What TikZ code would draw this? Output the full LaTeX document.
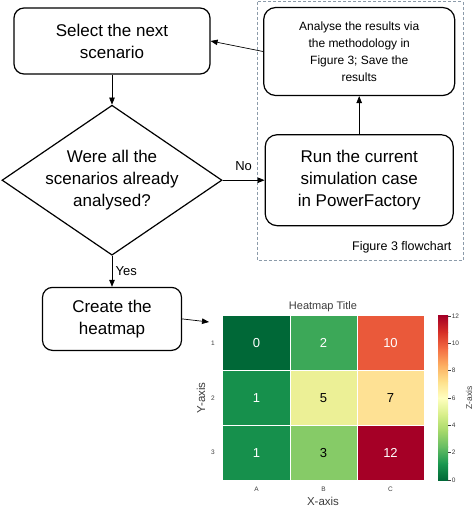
\documentclass[tikz,border=0pt]{standalone}
\usepackage{fontspec}
\setmainfont{Liberation Sans}
\usetikzlibrary{arrows.meta,positioning,shapes.geometric}
\definecolor{framegray}{RGB}{140,155,170}
\definecolor{tickgray}{RGB}{60,60,60}
% reversed RdYlGn stops for the colour bar
\definecolor{rg0}{RGB}{0,104,55}
\definecolor{rg1}{RGB}{26,152,80}
\definecolor{rg2}{RGB}{102,189,99}
\definecolor{rg3}{RGB}{166,217,106}
\definecolor{rg4}{RGB}{217,239,139}
\definecolor{rg5}{RGB}{255,255,191}
\definecolor{rg6}{RGB}{254,224,139}
\definecolor{rg7}{RGB}{253,174,97}
\definecolor{rg8}{RGB}{244,109,67}
\definecolor{rg9}{RGB}{215,48,39}
\definecolor{rg10}{RGB}{165,0,38}
% cell colours
\definecolor{hm0}{RGB}{0,104,55}
\definecolor{hm1}{RGB}{22,144,76}
\definecolor{hm2}{RGB}{60,168,88}
\definecolor{hm3}{RGB}{134,203,103}
\definecolor{hm5}{RGB}{236,240,150}
\definecolor{hm7}{RGB}{254,225,148}
\definecolor{hm10}{RGB}{234,89,58}
\definecolor{hm12}{RGB}{165,0,38}

\begin{document}
\begin{tikzpicture}[x=1pt,y=-1pt,
  box/.style={draw,rounded corners=10pt,line width=1.2pt,align=center,inner sep=0pt},
  big/.style={font=\fontsize{17}{22}\selectfont},
  flow/.style={-{Triangle[length=7pt,width=5.5pt]},line width=.7pt},
  tick/.style={font=\fontsize{6.5}{8}\selectfont,text=tickgray,inner sep=1pt},
  axislab/.style={font=\fontsize{11.5}{13}\selectfont,text=tickgray}]
\useasboundingbox (0,0) rectangle (474,507);

\node[box,big,minimum width=196pt,minimum height=66pt] (sel) at (112,41) {Select the next\\scenario};
\node[diamond,draw,line width=1.2pt,minimum width=220pt,minimum height=150pt,inner sep=0pt,below=30pt of sel,
  label={[big,align=center]center:Were all the\\scenarios already\\analysed?}] (dec) {};
\node[box,big,minimum width=139pt,minimum height=63pt,below=31pt of dec] (heat) {Create the\\heatmap};
\node[box,big,rounded corners=12pt,minimum width=188pt,minimum height=91pt,right=42pt of dec] (run) {Run the current\\simulation case\\in PowerFactory};
\node[box,rounded corners=12pt,font=\fontsize{12}{17}\selectfont,minimum width=191pt,minimum height=88pt,above=38pt of run] (ana) {Analyse the results via\\the methodology in\\Figure 3; Save the\\results};

% Figure 3 frame
\draw[framegray,dash pattern=on 3pt off 2pt,line width=.8pt] (257,1.5) rectangle (463,260);
\node[font=\fontsize{12.5}{15}\selectfont,anchor=base east] (figlab) at (455,250) {Figure 3 flowchart};

\draw[flow] (sel) -- (dec);
\draw[flow] (dec) -- node[above=6pt,font=\fontsize{13}{15}\selectfont] (no) {No} (run);
\draw[flow] (run) -- (ana);
\draw[flow] (ana.west) -- (sel.east);
\draw[flow] (dec) -- node[right=0pt,font=\fontsize{13}{15}\selectfont] (yes) {Yes} (heat);
\coordinate (hmtip) at (209,322);
\draw[flow] (heat.east) -- (hmtip);

% heatmap
\node[font=\fontsize{11}{13}\selectfont,text=tickgray] (hmtitle) at (323,307) {Heatmap Title};
\foreach \v/\tc [count=\k from 0] in {0/white,2/white,10/white,1/white,5/black,7/black,1/white,3/black,12/white} {
  \pgfmathtruncatemacro\col{mod(\k,3)}
  \pgfmathtruncatemacro\row{\k/3}
  \fill[hm\v] (223+67*\col,316+54.67*\row) rectangle ++(67,54.67);
  \node[text=\tc,font=\fontsize{13}{15}\selectfont] (cell\k) at (256.5+67*\col,343.3+54.67*\row) {\v};
}
\foreach \xg in {290,357} \draw[white,line width=1pt] (\xg,316) -- (\xg,480);
\foreach \yg in {370.7,425.3} \draw[white,line width=1pt] (223,\yg) -- (424,\yg);
\foreach \r [count=\i from 0] in {1,2,3} \node[tick] (row\r) at (213,343.3+54.67*\i) {\r};
\foreach \c [count=\i from 0] in {A,B,C} \node[tick] (col\c) at (256.5+67*\i,489) {\c};
\node[axislab] (xlab) at (323,501) {X-axis};
\node[axislab,rotate=90] (ylab) at (201,398) {Y-axis};

% colour bar
\foreach \i in {0,...,9} {
  \pgfmathtruncatemacro\j{\i+1}
  \shade[bottom color=rg\i,top color=rg\j] (438,480-16.4*\i) rectangle (448,480-16.4*\j-0.3);
}
\foreach \t in {0,2,...,12}
  \draw[tickgray,line width=.5pt] (448,480-13.667*\t) -- ++(2.5,0) node[right,tick] (zt\t) {\t};
\node[font=\fontsize{8.5}{10}\selectfont,text=tickgray,rotate=90] (zlab) at (469,398) {Z-axis};
\end{tikzpicture}
\end{document}
